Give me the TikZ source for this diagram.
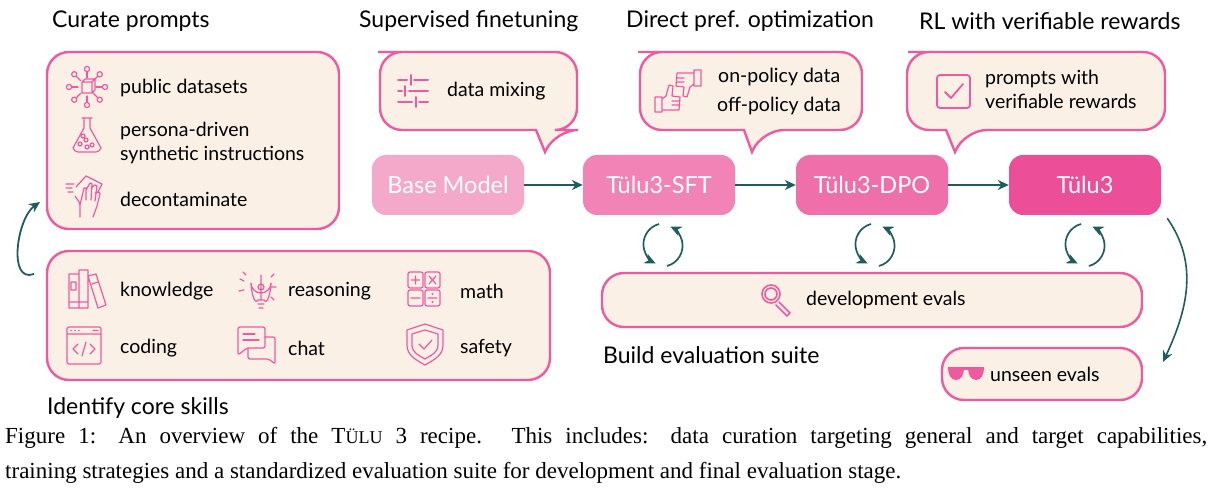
\documentclass[tikz,border=0pt]{standalone}
\usepackage{fontspec}
\setmainfont{Lato}
\newfontfamily\capfont{Liberation Serif}
\usetikzlibrary{arrows.meta}
\definecolor{pk}{HTML}{EE5A9F}
\definecolor{cream}{HTML}{FAF0E6}
\definecolor{teal}{HTML}{1F5C5E}
\definecolor{c0}{HTML}{F5A9CA}
\definecolor{c1}{HTML}{F283B6}
\definecolor{c2}{HTML}{EF6FAA}
\definecolor{c3}{HTML}{EC4F97}
\begin{document}
\begin{tikzpicture}[x=1pt,y=-1pt,
  box/.style={draw=pk,fill=cream,line width=2.4pt,rounded corners=22pt},
  head/.style={anchor=west,font=\fontsize{23}{27}\selectfont,inner sep=0},
  txt/.style={anchor=west,font=\fontsize{19.5}{24}\selectfont,inner sep=0,align=left},
  model/.style={rounded corners=14pt,minimum width=152pt,minimum height=60pt,text=white,font=\fontsize{23.5}{27}\selectfont,inner sep=0},
  ic/.style={draw=pk,line width=1.2pt,line join=round,line cap=round},
  arr/.style={draw=teal,line width=1.8pt,-{Stealth[length=11pt,width=10pt]}},
  cyc/.style={draw=teal,line width=1.7pt,-{Stealth[length=11pt,width=10pt]}},
  capt/.style={anchor=base west,inner sep=0,font=\capfont\fontsize{23}{28}\selectfont}]
\useasboundingbox (0,0) rectangle (1212,502);
\fill[white] (0,0) rectangle (1212,502);
% headings
\node[head] (h1) at (52,21) {Curate prompts};
\node[head] (h2) at (359,21) {Supervised finetuning};
\node[head] (h3) at (626,21) {Direct pref. optimization};
\node[head] (h4) at (919,21) {RL with verifiable rewards};
\node[head] (h5) at (47,408) {Identify core skills};
\node[head] (h6) at (603,355) {Build evaluation suite};
% curate box
\draw[box] (47,52) rectangle (339,229);
\node[txt] (t1) at (120,88) {public datasets};
\node[txt] (t2) at (120,143) {persona-driven\\synthetic instructions};
\node[txt] (t3) at (120,199) {decontaminate};
% icon network
\draw[ic] (82,82) rectangle (92,93) (82,82)--(85,79)--(95,79)--(92,82) (95,79)--(95,90)--(92,93);
\foreach \a in {0,45,...,315}{\draw[ic] (87,87)++(\a:9)--++(\a:6); \draw[ic] (87,87)++(\a:18) circle (2.6pt);}
% flask
\draw[ic] (82,118)--(92,118) (84,118)--(84,128)--(73,148) to[out=-60,in=180] (78,152)--(96,152) to[out=0,in=-120] (101,148)--(90,128)--(90,118);
\foreach \p in {(80,144),(86,140),(92,145),(87,147),(83,136)}{\draw[ic] \p circle (2pt);}
% decontaminate hand
\draw[ic] (80,217)--(80,205) to[out=100,in=-60] (75,196) (80,205)--(84,188)--(86,188)--(86,200) (86,190)--(90,183)--(92,184)--(91,200) (91,188)--(95,185)--(97,186)--(95,201) (95,193)--(99,192)--(100,194)--(97,206)--(93,217);
\draw[ic] (76,187)--(86,176)--(102,184)--(98,192) (66,184)--(74,184) (66,188)--(72,188) (68,192)--(73,192);
% skills box
\draw[box] (47,251) rectangle (550,380);
\node[txt] (k1) at (120,291) {knowledge};
\node[txt] (k2) at (288,291) {reasoning};
\node[txt] (k3) at (460,291) {math};
\node[txt] (k4) at (120,348) {coding};
\node[txt] (k5) at (288,348) {chat};
\node[txt] (k6) at (460,348) {safety};
% books
\draw[ic] (69,274) rectangle (79,308) (79,270) rectangle (88,308) (71,282) rectangle (76,290) (69,302)--(79,302) (79,302)--(88,302) (88,276)--(96,274)--(106,305)--(98,308)--cycle (92,284)--(98,282);
% bulb
\draw[ic] (258,300) to[out=-120,in=-90] (251,283) arc (180:0:10) to[out=-90,in=-60] (264,300) (258,300)--(264,300) (258,304)--(264,304) (259,308)--(263,308) (261,275)--(261,300) (261,287) circle (3pt);
\draw[ic] (271,277)--(274,274) (271,287)--(276,287) (271,297)--(274,300) (244,281)--(240,279) (244,290)--(239,291) (246,275)--(243,272);
% math
\foreach \x/\y in {408/272,425/272,408/290,425/290}{\draw[ic,rounded corners=2pt] (\x,\y) rectangle ++(15,16);}
\draw[ic] (415.5,276)--(415.5,284) (411.5,280)--(419.5,280) (429,276)--(436,284) (436,276)--(429,284) (411,298)--(420,298) (428,298)--(437,298);
\fill[pk] (432.5,294) circle (1.1pt) (432.5,302) circle (1.1pt);
% coding
\draw[ic,rounded corners=1.5pt] (67,327) rectangle (101,364) (67,334)--(101,334);
\fill[pk] (71,330.5) circle (0.9pt) (75,330.5) circle (0.9pt) (79,330.5) circle (0.9pt);
\draw[ic] (93,330.5)--(98,330.5) (78,344)--(73,349)--(78,354) (90,344)--(95,349)--(90,354) (86,342)--(82,356);
% chat
\draw[ic,rounded corners=2pt] (238,327)--(265,327)--(265,348)--(247,348)--(238,355)--cycle;
\draw[ic,rounded corners=2pt] (265,337)--(275,337)--(275,364)--(269,359)--(248,359)--(248,348);
\draw[ic] (243,334)--(255,334) (243,340)--(259,340);
% shield
\draw[ic] (425,324)--(443,330)--(443,345) to[out=-90,in=30] (425,365) to[out=150,in=-90] (407,345)--(407,330)--cycle;
\draw[ic] (425,330)--(438,334)--(438,345) to[out=-90,in=30] (425,359) to[out=150,in=-90] (412,345)--(412,334)--cycle;
\draw[ic] (419,344)--(424,349)--(432,340);
% left arrow
\coordinate (la) at (34,274);
\draw[arr] (la) to[out=200,in=215] (40,202);
% bubbles
\draw[box] (400,52) [rounded corners=22pt]--(577,52)--(577,130)--(556,130) [sharp corners]--(545,152)--(536,130) [rounded corners=22pt]--(380,130)--(380,52)--cycle;
\node[txt] (b1) at (447,91) {data mixing};
\draw[ic,line width=2pt] (398,80)--(407,80) (414,80)--(428,80) (411,75)--(411,85) (398,91)--(402,91) (409,91)--(428,91) (405,86)--(405,96) (398,102)--(412,102) (419,102)--(428,102) (416,97)--(416,107);
\draw[box] (660,52) [rounded corners=22pt]--(862,52)--(862,130)--(762,130) [sharp corners]--(752,152)--(744,130) [rounded corners=22pt]--(640,130)--(640,52)--cycle;
\node[txt] (b2) at (718,77) {on-policy data};
\node[txt] (b3) at (717,106) {off-policy data};
% thumbs up
\draw[ic] (655,112)--(655,97)--(662,97)--(662,112)--cycle (662,99)--(666,96)--(669,85)--(673,86)--(672,96)--(680,97)--(679,110)--(662,110) (672,101)--(680,101) (672,105)--(679,105);
% thumbs down
\draw[ic] (701,70)--(701,86)--(694,86)--(694,70)--cycle (694,84)--(690,87)--(687,97)--(683,96)--(684,87)--(676,86)--(677,73)--(694,73) (677,78)--(684,78) (677,82)--(684,82);
\draw[box] (930,52) [rounded corners=22pt]--(1165,52)--(1165,130)--(965,130) [sharp corners]--(955,152)--(946,130) [rounded corners=22pt]--(907,130)--(907,52)--cycle;
\node[txt] (b4) at (985,89) {prompts with\\verifiable rewards};
\draw[ic,line width=1.8pt,rounded corners=3pt] (937,75) rectangle (970,108);
\draw[ic,line width=1.8pt] (945,92)--(951,98)--(963,84);
% models
\node[model,fill=c0] (m0) at (448,185) {Base Model};
\node[model,fill=c1] (m1) at (659,185) {Tülu3-SFT};
\node[model,fill=c2] (m2) at (872,185) {Tülu3-DPO};
\node[model,fill=c3] (m3) at (1085,185) {Tülu3};
\draw[arr] (m0) -- (m1);
\draw[arr] (m1) -- (m2);
\draw[arr] (m2) -- (m3);
% dev evals
\node[box,minimum width=540pt,minimum height=54pt,inner sep=0] (dev) at (872,300) {};
\node[txt] (dt) at (806,300) {development evals};
\draw[ic,line width=1.6pt] (771,294) circle (9pt) (771,294) circle (6pt);
\draw[ic,line width=1.6pt] (779,302)--(790,313)--(787,316)--(776,305);
% cycles
\foreach \cx in {663,875,1085}{
  \draw[cyc] (\cx-4,224) arc (-105:-245:21);
  \draw[cyc] (\cx+4,266) arc (75:-65:21);
}
% unseen
\node[box,minimum width=200pt,minimum height=52pt,inner sep=0] (un) at (1042,374) {};
\node[txt] (ut) at (990,374) {unseen evals};
\fill[pk] (948,367) rectangle (984,370);
\fill[pk] (948,368) to[out=-90,in=180] (956,380) to[out=0,in=-90] (964,368)--cycle;
\fill[pk] (968,368) to[out=-90,in=180] (976,380) to[out=0,in=-90] (984,368)--cycle;
\draw[teal,line width=1.6pt,-{Stealth[length=11pt,width=10pt]}] (m3.south east) ++(6,3) to[out=-55,in=65] (1163,362);
% caption
\node[capt] (cap1) at (5,443) {\makebox[1202pt][s]{Figure 1: An overview of the T{\fontsize{18}{28}\selectfont ÜLU} 3 recipe. This includes: data curation targeting general and target capabilities,}};
\node[capt] (cap2) at (5,478) {training strategies and a standardized evaluation suite for development and final evaluation stage.};
\end{tikzpicture}
\end{document}
